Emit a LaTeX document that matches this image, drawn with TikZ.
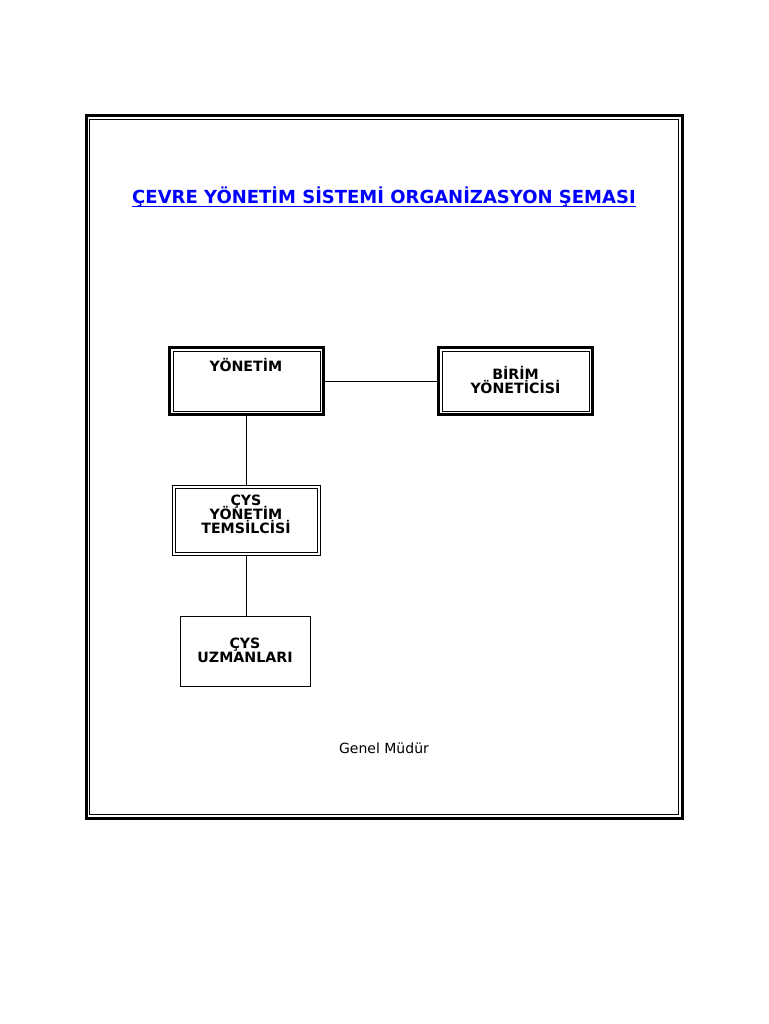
\documentclass[tikz,border=0pt]{standalone}
\usepackage{fontspec}
\setmainfont{DejaVu Sans}
\usetikzlibrary{calc}
\begin{document}
\begin{tikzpicture}[x=1pt,y=-1pt,
  lbl/.style={font=\fontsize{14.2}{17}\selectfont\bfseries,align=center},
  bx/.style={draw,outer sep=0pt,anchor=north west}]
\useasboundingbox (0,0) rectangle (768,1024);
% outer frame
\draw[line width=3pt] (86,116) rectangle (682,818);
\draw[line width=1pt] (89.5,119.5) rectangle (678.5,814.5);
\node[font=\fontsize{18}{22}\selectfont\bfseries,text=blue,inner sep=0pt] (title) at (384,197) {ÇEVRE YÖNETİM SİSTEMİ ORGANİZASYON ŞEMASI};
\draw[blue,line width=1pt] ($(title.base west)+(0,3)$) -- ($(title.base east)+(0,3)$);
% boxes
\node[bx,line width=3pt,minimum width=154pt,minimum height=67pt] (yon) at (169.5,347.5) {};
\draw[line width=1pt] ($(yon.north west)+(3.5,3.5)$) rectangle ($(yon.south east)+(-3,-3)$);
\node[lbl] at (246,365) {YÖNETİM};
\node[bx,line width=3pt,minimum width=154pt,minimum height=67pt] (bir) at (438.5,347.5) {};
\draw[line width=1pt] ($(bir.north west)+(3.5,3.5)$) rectangle ($(bir.south east)+(-3,-3)$);
\node[lbl] at (515.5,380) {BİRİM\\[-3pt]YÖNETİCİSİ};
\node[bx,line width=0.8pt,minimum width=148pt,minimum height=70pt] (temsil) at (172,485) {};
\draw[line width=0.8pt] ($(temsil.north west)+(3,3)$) rectangle ($(temsil.south east)+(-3,-3)$);
\node[lbl] at (246,514) {ÇYS\\[-3pt]YÖNETİM\\[-3pt]TEMSİLCİSİ};
\node[bx,line width=0.8pt,minimum width=130pt,minimum height=70pt] (uzm) at (180,616) {};
\node[lbl] at (245,650) {ÇYS\\[-3pt]UZMANLARI};
% connectors
\draw[line width=0.8pt] (yon.east) -- (bir.west);
\draw[line width=0.8pt] (temsil.north) -- (temsil.north |- yon.south);
\draw[line width=0.8pt] (temsil.south) -- (temsil.south |- uzm.north);
\node[font=\fontsize{14}{17}\selectfont] (gm) at (384,748) {Genel Müdür};
\end{tikzpicture}
\end{document}
